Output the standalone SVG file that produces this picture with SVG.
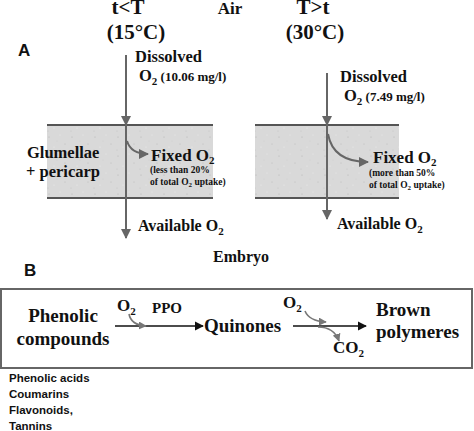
<svg xmlns="http://www.w3.org/2000/svg" width="474" height="431" viewBox="0 0 474 431">
<defs>
<pattern id="speck" width="23" height="19" patternUnits="userSpaceOnUse">
<rect width="23" height="19" fill="#d9d9d9"/>
<circle cx="3" cy="4" r="0.6" fill="#b5b5b5"/>
<circle cx="14" cy="2" r="0.5" fill="#eeeeee"/>
<circle cx="19" cy="11" r="0.6" fill="#bcbcbc"/>
<circle cx="8" cy="14" r="0.5" fill="#f0f0f0"/>
<circle cx="11" cy="8" r="0.4" fill="#c4c4c4"/>
<circle cx="2" cy="17" r="0.5" fill="#c0c0c0"/>
</pattern>
<marker id="ag" viewBox="0 0 10 10" refX="9" refY="5" markerWidth="5" markerHeight="5" markerUnits="strokeWidth" orient="auto">
<path d="M0,0 L10,5 L0,10 z" fill="#666"/>
</marker>
<marker id="ab" viewBox="0 0 10 10" refX="9" refY="5" markerWidth="7" markerHeight="7" markerUnits="strokeWidth" orient="auto">
<path d="M0,0 L10,5 L0,10 z" fill="#111"/>
</marker>
<marker id="ag2" viewBox="0 0 10 10" refX="9" refY="5" markerWidth="5" markerHeight="5" markerUnits="strokeWidth" orient="auto">
<path d="M0,0 L10,5 L0,10 z" fill="#777"/>
</marker>
</defs>
<style>
.s{font-family:"Liberation Serif","Times New Roman",serif;font-weight:bold;fill:#111}
.k{font-family:"Liberation Sans",Arial,sans-serif;font-weight:bold;fill:#111}
.band{fill:url(#speck)}
.edge{stroke:#555;stroke-width:2}
.ga{fill:none;stroke:#666;stroke-width:2;marker-end:url(#ag)}
.ba{fill:none;stroke:#111;stroke-width:1.3;marker-end:url(#ab)}
.ca{fill:none;stroke:#777;stroke-width:1.6;marker-end:url(#ag2)}
</style>

<g id="panelA-labels">
<text class="k" x="18" y="56" font-size="17">A</text>
<text class="s" x="128" y="14" font-size="21" text-anchor="middle">t&lt;T</text>
<text class="s" x="136" y="39" font-size="21" text-anchor="middle">(15°C)</text>
<text class="s" x="230" y="14" font-size="17" text-anchor="middle">Air</text>
<text class="s" x="313" y="14" font-size="21" text-anchor="middle">T&gt;t</text>
<text class="s" x="315" y="39" font-size="21" text-anchor="middle">(30°C)</text>
</g>

<g id="band-left">
<rect class="band" x="47" y="125" width="166" height="73"/>
<line class="edge" x1="47" y1="125" x2="213" y2="125"/>
<line class="edge" x1="47" y1="198" x2="213" y2="198"/>
</g>
<g id="band-right">
<rect class="band" x="255" y="125" width="144" height="73"/>
<line class="edge" x1="255" y1="125" x2="399" y2="125"/>
<line class="edge" x1="255" y1="198" x2="399" y2="198"/>
</g>

<g id="connectors">
<path class="ga" d="M126,55 L126,125"/>
<path class="ga" d="M126,125 L126,238"/>
<path class="ga" d="M127,141 Q131,154 148,154"/>
<path class="ga" d="M327,73 L327,125"/>
<path class="ga" d="M327,125 L327,219"/>
<path class="ga" d="M328,134 Q333,162 368,162"/>
<path class="ba" d="M115,326 L203,326"/>
<path class="ca" d="M129,314 Q131,325 146,326"/>
<path class="ba" d="M293,326 L366,326"/>
<path class="ca" d="M305,311 Q309,321 326,322"/>
<path class="ca" d="M318,327 Q334,327 339,341"/>
</g>

<g id="dissolved-left">
<text class="s" x="135" y="62" font-size="16.5">Dissolved</text>
<text class="s" x="139" y="81" font-size="16.5">O<tspan font-size="11" dy="4">2</tspan><tspan font-size="13" dy="-4"> (10.06 mg/l)</tspan></text>
</g>
<g id="dissolved-right">
<text class="s" x="340" y="82" font-size="16.5">Dissolved</text>
<text class="s" x="344" y="101" font-size="16.5">O<tspan font-size="11" dy="4">2</tspan><tspan font-size="13" dy="-4"> (7.49 mg/l)</tspan></text>
</g>
<g id="glumellae">
<text class="s" x="27" y="158" font-size="16.5">Glumellae</text>
<text class="s" x="26" y="177" font-size="16.5">+ pericarp</text>
</g>
<g id="fixed-left">
<text class="s" x="151" y="161" font-size="17">Fixed O<tspan font-size="11" dy="3">2</tspan></text>
<text class="s" x="150" y="173" font-size="9.5">(less than 20%</text>
<text class="s" x="150" y="185" font-size="9.5">of total O<tspan font-size="7" dy="2">2</tspan><tspan dy="-2"> uptake)</tspan></text>
</g>
<g id="fixed-right">
<text class="s" x="373" y="163" font-size="17">Fixed O<tspan font-size="11" dy="3">2</tspan></text>
<text class="s" x="369" y="176" font-size="9.5">(more than 50%</text>
<text class="s" x="369" y="188" font-size="9.5">of total O<tspan font-size="7" dy="2">2</tspan><tspan dy="-2"> uptake)</tspan></text>
</g>
<g id="available-left">
<text class="s" x="138" y="231" font-size="16">Available O<tspan font-size="11" dy="4">2</tspan></text>
</g>
<g id="available-right">
<text class="s" x="337" y="229" font-size="16">Available O<tspan font-size="11" dy="4">2</tspan></text>
</g>
<g id="embryo">
<text class="s" x="213" y="262" font-size="16">Embryo</text>
</g>

<g id="panelB">
<text class="k" x="24" y="276" font-size="17">B</text>
<rect x="1" y="289" width="471" height="79" fill="none" stroke="#666" stroke-width="2"/>
</g>
<g id="phenolic">
<text class="s" x="63" y="322" font-size="19" text-anchor="middle">Phenolic</text>
<text class="s" x="63" y="345" font-size="19" text-anchor="middle">compounds</text>
</g>
<g id="o2-ppo">
<text class="s" x="117" y="311" font-size="17">O<tspan font-size="11" dy="4">2</tspan></text>
<text class="s" x="152" y="313" font-size="15">PPO</text>
</g>
<g id="quinones">
<text class="s" x="204" y="332" font-size="19">Quinones</text>
</g>
<g id="o2-co2">
<text class="s" x="283" y="308" font-size="17">O<tspan font-size="11" dy="4">2</tspan></text>
<text class="s" x="333" y="353" font-size="17">CO<tspan font-size="11" dy="4">2</tspan></text>
</g>
<g id="brown">
<text class="s" x="376" y="316" font-size="19">Brown</text>
<text class="s" x="376" y="338" font-size="19">polymeres</text>
</g>
<g id="list">
<text class="k" x="9" y="382" font-size="11.5">Phenolic acids</text>
<text class="k" x="9" y="398" font-size="11.5">Coumarins</text>
<text class="k" x="9" y="414" font-size="11.5">Flavonoids,</text>
<text class="k" x="9" y="430" font-size="11.5">Tannins</text>
</g>
</svg>
